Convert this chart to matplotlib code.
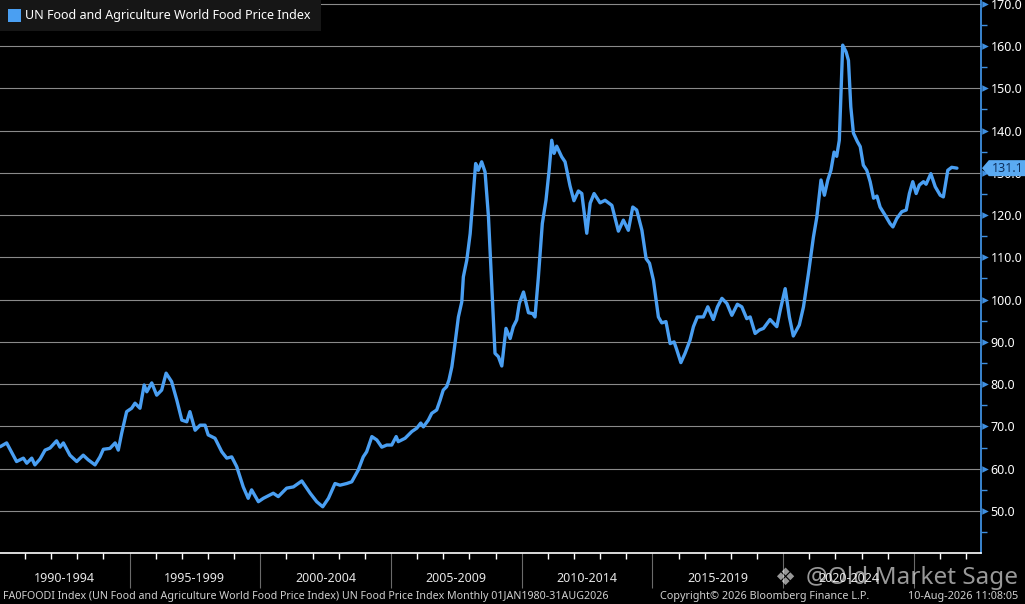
import matplotlib
matplotlib.use("Agg")
import matplotlib.pyplot as plt
from matplotlib.patches import Polygon, Rectangle
from matplotlib.transforms import blended_transform_factory
import numpy as np

plt.rcParams['font.family'] = ['Noto Sans', 'DejaVu Sans']

# ---- data (decimal year, index value) ----
dates = [
    1990.05, 1990.30, 1990.68, 1990.94, 1991.07, 1991.26, 1991.38, 1991.58, 1991.77, 1991.96,
    1992.21, 1992.34, 1992.47, 1992.72, 1992.98, 1993.23, 1993.42, 1993.68, 1993.87, 1994.00,
    1994.25, 1994.45, 1994.57, 1994.70, 1994.89, 1995.08, 1995.21, 1995.40, 1995.56, 1995.66,
    1995.85, 1996.04, 1996.23, 1996.40, 1996.61, 1996.81, 1997.00, 1997.19, 1997.31, 1997.51,
    1997.70, 1997.89, 1998.01, 1998.27, 1998.53, 1998.72, 1998.91, 1999.10, 1999.35, 1999.54,
    1999.67, 1999.93, 2000.12, 2000.50, 2000.69, 2001.01, 2001.27, 2001.59, 2001.91, 2002.16,
    2002.39, 2002.61, 2002.86, 2003.05, 2003.31, 2003.50, 2003.75, 2003.94, 2004.07, 2004.27,
    2004.46, 2004.65, 2004.84, 2005.03, 2005.20, 2005.28, 2005.54, 2005.80, 2005.99, 2006.14,
    2006.24, 2006.43, 2006.56, 2006.75, 2006.88, 2007.00, 2007.13, 2007.22, 2007.33, 2007.45,
    2007.58, 2007.71, 2007.77, 2007.90, 2008.03, 2008.15, 2008.24, 2008.34, 2008.47, 2008.60,
    2008.73, 2008.86, 2008.98, 2009.11, 2009.24, 2009.40, 2009.56, 2009.68, 2009.81, 2009.91,
    2010.07, 2010.26, 2010.42, 2010.51, 2010.64, 2010.79, 2010.93, 2011.05, 2011.15, 2011.24,
    2011.34, 2011.53, 2011.66, 2011.85, 2012.00, 2012.17, 2012.30, 2012.49, 2012.62, 2012.77,
    2013.00, 2013.19, 2013.45, 2013.70, 2013.89, 2014.08, 2014.25, 2014.40, 2014.60, 2014.76,
    2014.89, 2015.04, 2015.23, 2015.36, 2015.52, 2015.68, 2015.83, 2015.93, 2016.09, 2016.25,
    2016.44, 2016.57, 2016.72, 2016.95, 2017.12, 2017.33, 2017.49, 2017.66, 2017.85, 2018.04,
    2018.25, 2018.42, 2018.61, 2018.74, 2018.93, 2019.09, 2019.25, 2019.50, 2019.76, 2019.89,
    2020.08, 2020.24, 2020.39, 2020.62, 2020.78, 2020.97, 2021.16, 2021.29, 2021.45, 2021.58,
    2021.71, 2021.83, 2021.95, 2022.05, 2022.15, 2022.28, 2022.41, 2022.50, 2022.59, 2022.69,
    2022.84, 2022.95, 2023.07, 2023.20, 2023.33, 2023.46, 2023.59, 2023.71, 2023.90, 2024.09,
    2024.20, 2024.35, 2024.54, 2024.71, 2024.83, 2024.96, 2025.09, 2025.21, 2025.37, 2025.47,
    2025.65, 2025.82, 2026.01, 2026.13, 2026.30, 2026.45, 2026.65,
]
values = [
    65.2, 66.1, 61.7, 62.5, 61.3, 62.5, 60.9, 62.3, 64.4, 64.9,
    66.6, 65.1, 66.1, 63.2, 61.7, 63.2, 62.1, 60.9, 62.8, 64.6,
    64.8, 66.1, 64.4, 68.4, 73.5, 74.3, 75.5, 74.3, 79.8, 78.2,
    80.3, 77.4, 78.6, 82.6, 80.6, 76.2, 71.5, 71.1, 73.5, 69.1,
    70.3, 70.3, 68.0, 67.2, 64.0, 62.5, 62.8, 60.5, 55.7, 53.0,
    55.0, 52.2, 53.0, 54.2, 53.4, 55.4, 55.7, 57.1, 54.2, 52.2,
    51.0, 53.0, 56.5, 56.1, 56.5, 56.9, 59.7, 62.8, 64.0, 67.6,
    66.8, 65.1, 65.6, 65.6, 67.6, 66.4, 67.2, 68.8, 69.6, 70.8,
    69.9, 71.5, 73.1, 73.9, 76.2, 78.6, 79.4, 81.0, 84.1, 89.6,
    95.9, 99.5, 105.4, 109.3, 115.6, 125.1, 132.2, 130.6, 132.6, 130.2,
    119.6, 103.0, 87.3, 86.5, 84.3, 93.2, 90.8, 93.6, 95.2, 99.1,
    101.8, 96.9, 96.7, 95.9, 105.4, 118.0, 123.5, 130.6, 137.7, 134.6,
    136.3, 133.8, 132.6, 126.9, 123.4, 125.7, 125.1, 115.7, 122.8, 125.1,
    122.9, 123.5, 122.3, 116.2, 118.8, 116.4, 121.9, 121.2, 116.4, 109.7,
    108.6, 104.6, 95.9, 94.5, 94.8, 89.6, 90.0, 88.2, 85.1, 87.3,
    90.4, 93.6, 95.9, 95.9, 98.3, 95.3, 98.3, 100.3, 99.1, 96.3,
    98.9, 98.3, 95.5, 95.9, 92.0, 92.8, 93.2, 95.3, 93.6, 97.5,
    102.6, 95.9, 91.4, 94.0, 98.3, 106.2, 114.8, 119.5, 128.3, 124.7,
    128.3, 130.6, 134.9, 133.9, 137.7, 160.2, 158.6, 156.6, 145.6, 139.4,
    137.4, 136.2, 131.8, 130.6, 127.9, 124.0, 124.5, 121.9, 120.0, 118.0,
    117.2, 119.2, 120.8, 121.2, 125.1, 127.9, 125.1, 127.1, 127.9, 127.3,
    129.8, 126.7, 124.7, 124.3, 130.6, 131.3, 131.1,
]
period_labels = ["1990-1994", "1995-1999", "2000-2004", "2005-2009",
                 "2010-2014", "2015-2019", "2020-2024"]
period_starts = [1990, 1995, 2000, 2005, 2010, 2015, 2020]
y_major = list(range(50, 171, 10))
series_name = "UN Food and Agriculture World Food Price Index"
footer_left = ("FA0FOODI Index (UN Food and Agriculture World Food Price Index) "
               "UN Food Price Index Monthly 01JAN1980-31AUG2026")
footer_mid = "Copyright\u00a9 2026 Bloomberg Finance L.P."
footer_right = "10-Aug-2026 11:08:05"

# ---- styling ----
BG = "black"
LINE = "#4a9ff2"
AXBLUE = "#3f8fe0"
GRID = "#8a8a8a"
TXT = "#e6e6e6"

W, H = 1025, 604
fig = plt.figure(figsize=(W / 100, H / 100), dpi=100, facecolor=BG)
ax = fig.add_axes([0, 51 / H, 981 / W, 553 / H])
ax.set_facecolor(BG)

ax.plot(dates, values, color=LINE, lw=2.4, solid_joinstyle="round",
        solid_capstyle="round", zorder=3)

ax.set_xlim(1990.046, 2027.57)
ax.set_ylim(40.06, 170.88)

# spines
for s in ("top", "left"):
    ax.spines[s].set_visible(False)
ax.spines["right"].set_color(AXBLUE)
ax.spines["right"].set_linewidth(1.3)
ax.spines["bottom"].set_color("white")
ax.spines["bottom"].set_linewidth(1.2)

# y axis on the right
ax.yaxis.tick_right()
ax.set_yticks(y_major)
ax.set_yticklabels([f"{v:.1f}" for v in y_major])
ax.set_yticks(np.arange(45, 171, 10), minor=True)
ax.tick_params(axis="y", which="major", length=0, pad=7, labelsize=9,
               labelcolor="white")
ax.tick_params(axis="y", which="minor", length=4, width=1, color=AXBLUE,
               direction="out")
ax.grid(axis="y", which="major", color=GRID, lw=0.8, zorder=1)
ax.set_axisbelow(True)

trans_y = blended_transform_factory(ax.transAxes, ax.transData)
ax.scatter([1.004] * len(y_major), y_major, marker=">", s=22, color=AXBLUE,
           transform=trans_y, clip_on=False, zorder=4, linewidths=0)

# x axis: yearly minor ticks, 5-year separators, centred period labels
ax.set_xticks(period_starts[1:] + [2025])
ax.set_xticklabels([])
ax.set_xticks(np.arange(1991, 2028, 1), minor=True)
ax.tick_params(axis="x", which="minor", length=4, width=1, color="white",
               direction="out")
ax.tick_params(axis="x", which="major", length=25, width=0.8, color="#6a6a6a",
               direction="out")
trans_x = ax.get_xaxis_transform()
for lab, st in zip(period_labels, period_starts):
    ax.text(st + 2.5, -0.046, lab, transform=trans_x, ha="center", va="center",
            fontsize=9, color=TXT, clip_on=False)

# last value tag
last = values[-1]
half = 8 / 4.227
tag = Polygon([(1.001, last), (1.008, last + half), (1.05, last + half),
               (1.05, last - half), (1.008, last - half)], closed=True,
              transform=trans_y, facecolor="#5aaaf2", edgecolor="none",
              clip_on=False, zorder=6)
ax.add_patch(tag)
ax.text(1.027, last, f"{last:.1f}", transform=trans_y, ha="center",
        va="center", fontsize=9, color="#0d2f5c", clip_on=False, zorder=7)

# legend box
fig.patches.append(Rectangle((0, 1 - 31 / H), 321 / W, 31 / H,
                             transform=fig.transFigure, facecolor="#161616",
                             edgecolor="none", zorder=10))
fig.patches.append(Rectangle((8 / W, 1 - 22 / H), 13 / W, 13 / H,
                             transform=fig.transFigure, facecolor=LINE,
                             edgecolor="none", zorder=11))
fig.text(25 / W, 1 - 16 / H, series_name, ha="left", va="center",
         fontsize=9.0, color="white", zorder=12)

# footer
fig.text(3 / W, 8 / H, footer_left, ha="left", va="center", fontsize=7.7,
         color="#d0d0d0")
fig.text(660 / W, 8 / H, footer_mid, ha="left", va="center", fontsize=7.8,
         color="#d0d0d0")
fig.text(1018 / W, 8 / H, footer_right, ha="right", va="center", fontsize=7.8,
         color="#d0d0d0")

# watermark
fig.text(785 / W, 26 / H, "\u2756", ha="center", va="center", fontsize=17,
         color="white", alpha=0.6, family=["DejaVu Sans"])
fig.text(806 / W, 26 / H, "@Old Market Sage", ha="left", va="center",
         fontsize=17.5, color="white", alpha=0.6)

fig.savefig("out.png", dpi=100, facecolor=BG)
